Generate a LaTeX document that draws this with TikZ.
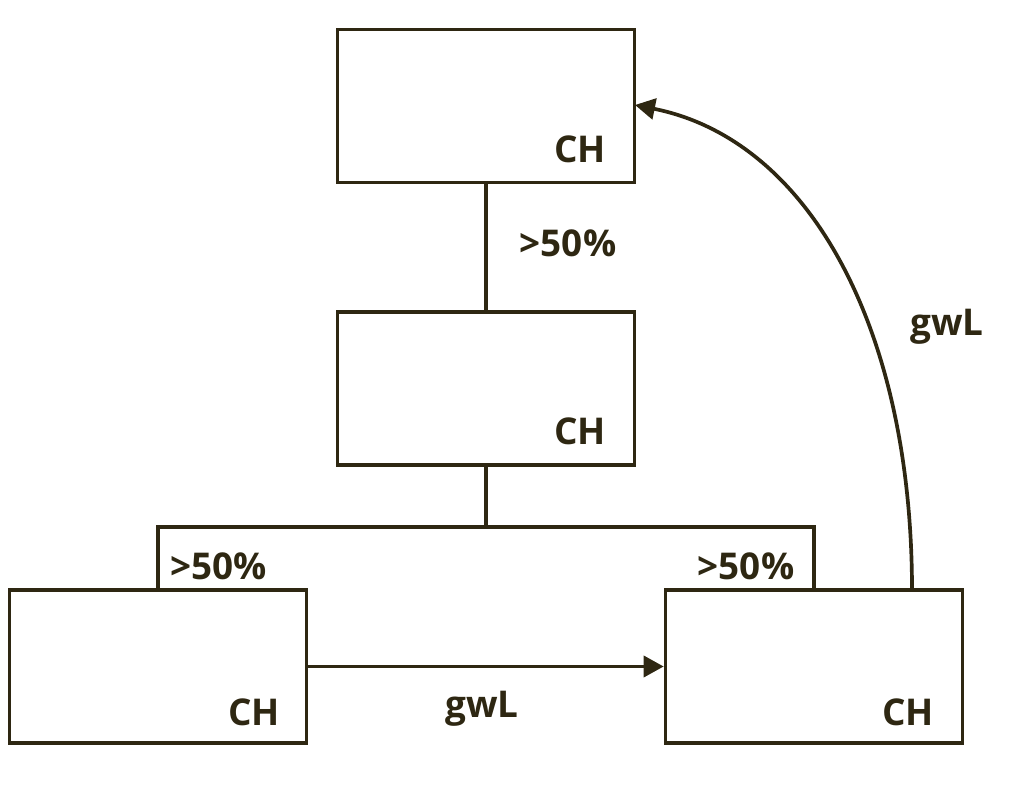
\documentclass[tikz,border=0pt]{standalone}
\usepackage{fontspec}
\setmainfont{Open Sans}
\usetikzlibrary{arrows.meta}
\definecolor{ink}{RGB}{46,39,18}
\begin{document}
\begin{tikzpicture}[x=0.02cm,y=-0.02cm,
  box/.style={draw=ink,line width=2.1pt,minimum width=5.94cm,minimum height=3.06cm,inner sep=0pt},
  lbl/.style={text=ink,font=\fontsize{21}{24}\selectfont\bfseries,inner sep=0pt},
  conn/.style={draw=ink,line width=2.1pt},
  tip/.style={-{Triangle[length=0.4cm,width=0.42cm]}}]
\useasboundingbox (0,0) rectangle (1024,790);
\node[box] (top) at (486,106) {};
\node[box] (mid) at (486,388.5) {};
\node[box] (bl) at (158,666.5) {};
\node[box] (br) at (814,666.5) {};
\node[lbl] (chtop) at (580,149) {CH};
\node[lbl] (chmid) at (580,431) {CH};
\node[lbl] (chbl) at (254,712) {CH};
\node[lbl] (chbr) at (908,712) {CH};
\node[lbl] (p1) at (568,243) {>50\%};
\node[lbl] (p2) at (219,566) {>50\%};
\node[lbl] (p3) at (746,566) {>50\%};
\node[lbl] (g1) at (482,709) {gwL};
\node[lbl] (g2) at (947,327) {gwL};
\coordinate (bus) at (486,527);
\coordinate (busl) at (158,527);
\coordinate (busr) at (814,527);
\coordinate (cs) at (912,590);
\coordinate (ce) at (635,105);
\draw[conn] (top.south) -- (mid.north);
\draw[conn] (mid.south) -- (bus);
\draw[conn,line cap=rect] (bl.north) -- (busl) -- (busr) -- (br.north);
\draw[conn,tip] (bl.east) -- (br.west);
\draw[conn,tip] (cs) .. controls (912,330) and (810,140) .. (ce);
\end{tikzpicture}
\end{document}
